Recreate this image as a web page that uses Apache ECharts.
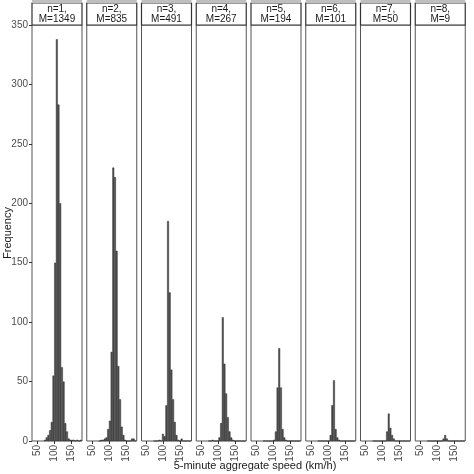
<!DOCTYPE html><html><head><meta charset="utf-8"><script src="https://cdn.jsdelivr.net/npm/echarts@6/dist/echarts.min.js"></script>
<style>html,body{margin:0;padding:0;background:#fff}#c{width:474px;height:474px}</style></head><body><div id="c"></div><script>
const panelLabels=["n=1,\nM=1349","n=2,\nM=835","n=3,\nM=491","n=4,\nM=267","n=5,\nM=194","n=6,\nM=101","n=7,\nM=50","n=8,\nM=9"];
const binStarts=[70,75,80,85,90,95,100,105,110,115,120,125,130,135,140,145,150,155,160,165,170,175];
const p1=[1,3,5,9,16,55,150,338,283,200,62,50,15,8,2,1,1,1,0,1,0,1];
const p2=[0,1,1,2,3,10,17,75,230,222,160,63,35,12,5,1,0,0,0,2,2,0];
const p3=[0,0,0,1,0,6,4,30,185,125,60,35,16,5,1,0,2,0,0,0,0,0];
const p4=[0,0,1,0,0,0,3,15,104,65,40,20,8,3,1,0,0,0,0,0,0,0];
const p5=[0,0,0,0,0,0,1,8,45,78,45,10,3,1,0,0,0,0,0,0,0,0];
const p6=[0,0,0,0,0,0,0,5,30,51,10,3,1,0,0,0,0,0,0,0,0,0];
const p7=[0,0,0,0,0,0,0,0,8,23,11,5,2,0,0,0,0,0,0,0,0,0];
const p8=[0,0,0,0,0,0,0,0,0,2,5,2,0,0,0,0,0,0,0,0,0,0];
const panels=[p1,p2,p3,p4,p5,p6,p7,p8];
const yTicks=[0,50,100,150,200,250,300,350];
const xTicks=[50,100,150];
const L0=32,PW=50,STEP=54.75,TOP=25,BOT=33;
const grids=[],xA=[],yA=[],series=[],graphic=[];
panels.forEach((p,i)=>{
  const left=L0+i*STEP;
  grids.push({left:left,width:PW,top:TOP,bottom:BOT,show:true,borderColor:'#555',borderWidth:1,backgroundColor:'#fff'});
  xA.push({type:'value',gridIndex:i,min:35,max:182,interval:50,
    axisLine:{show:false},axisTick:{show:true,length:3,lineStyle:{color:'#333'},customValues:xTicks},
    axisLabel:{rotate:90,fontSize:10,color:'#4d4d4d',fontFamily:'Liberation Sans',margin:4,customValues:xTicks},splitLine:{show:false}});
  yA.push({type:'value',gridIndex:i,min:0,max:350,interval:50,
    axisLine:{show:false},axisTick:{show:i===0,length:3,lineStyle:{color:'#333'}},
    axisLabel:{show:i===0,fontSize:10,color:'#4d4d4d',fontFamily:'Liberation Sans',margin:4},splitLine:{show:false}});
  series.push({type:'bar',xAxisIndex:i,yAxisIndex:i,barWidth:1.8,
    data:binStarts.map((b,j)=>[b+3,p[j]]),
    itemStyle:{color:'#595959',borderColor:'#111',borderWidth:0.4}});
  graphic.push({type:'rect',shape:{x:left,y:3,width:PW,height:22},style:{fill:'#fff',stroke:'#333',lineWidth:1.2}});
  graphic.push({type:'rect',shape:{x:left,y:0,width:PW,height:3},style:{fill:'#bfbfbf'}});
  graphic.push({type:'text',x:left+PW/2,y:14,style:{text:panelLabels[i],fill:'#1a1a1a',font:'10px Liberation Sans',align:'center',verticalAlign:'middle',lineHeight:10}});
});
graphic.push({type:'text',x:255,y:466,style:{text:'5-minute aggregate speed (km/h)',fill:'#1a1a1a',font:'11px Liberation Sans',align:'center',verticalAlign:'middle'}});
graphic.push({type:'text',x:8,y:233,rotation:Math.PI/2,style:{text:'Frequency',fill:'#1a1a1a',font:'11px Liberation Sans',align:'center',verticalAlign:'middle'}});
const ch=echarts.init(document.getElementById('c'),null,{renderer:'canvas'});
ch.setOption({animation:false,grid:grids,xAxis:xA,yAxis:yA,series:series,graphic:graphic});
</script></body></html>
